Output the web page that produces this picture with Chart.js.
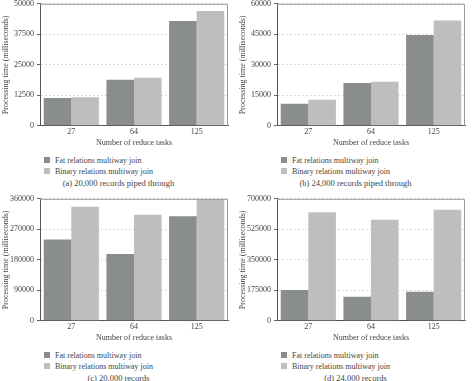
<!DOCTYPE html>
<html>
<head>
<meta charset="utf-8">
<script src="https://cdn.jsdelivr.net/npm/chart.js@4/dist/chart.umd.min.js"></script>
<style>
  html, body { margin: 0; padding: 0; background: #fff; }
  body { width: 474px; height: 381px; position: relative; overflow: hidden; font-family: "Liberation Serif", serif; color: #444; }
  .panel { position: absolute; width: 237px; height: 195px; }
  .panel canvas { position: absolute; left: 0; top: -4px; }
  .legend { position: absolute; left: 44px; top: 155px; font-size: 8px; line-height: 11px; }
  .legend div { white-space: nowrap; }
  .legend span { display: inline-block; width: 6px; height: 6px; margin-right: 5px; vertical-align: 0px; }
  .caption { position: absolute; left: 0; width: 237px; top: 177px; text-align: center; font-size: 8.5px; line-height: 12px; }
</style>
</head>
<body>
<div class="panel" style="left:0;top:0"><canvas id="c0" width="237" height="152"></canvas><div class="legend" id="l0"></div><div class="caption" id="t0"></div></div>
<div class="panel" style="left:237px;top:0"><canvas id="c1" width="237" height="152"></canvas><div class="legend" id="l1"></div><div class="caption" id="t1"></div></div>
<div class="panel" style="left:0;top:195px"><canvas id="c2" width="237" height="152"></canvas><div class="legend" id="l2"></div><div class="caption" id="t2"></div></div>
<div class="panel" style="left:237px;top:195px"><canvas id="c3" width="237" height="152"></canvas><div class="legend" id="l3"></div><div class="caption" id="t3"></div></div>
<script>
// data
const tasks = ["27", "64", "125"];
const seriesNames = ["Fat relations multiway join", "Binary relations multiway join"];
const seriesColors = ["#8a8d8d", "#bebebe"];

const fatA = [11400, 18900, 43000];
const binA = [11650, 19700, 47000];
const fatB = [10850, 21000, 44700];
const binB = [12800, 21700, 51800];
const fatC = [239700, 197300, 308700];
const binC = [336300, 312700, 360000];
const fatD = [176400, 138100, 166900];
const binD = [623300, 579200, 636700];

const yMax = [50000, 60000, 360000, 700000];
const yStep = [12500, 15000, 90000, 175000];
const captions = [
  "(a)  20,000 records piped through",
  "(b)  24,000 records piped through",
  "(c)  20,000 records",
  "(d)  24,000 records"
];

const font = { family: "Liberation Serif", size: 8 };
const textColor = "#444";

// top + right frame of the plot box
const framePlugin = {
  id: "frame",
  afterDraw(chart) {
    const { ctx, chartArea: a } = chart;
    ctx.save();
    ctx.strokeStyle = "#9a9a9a";
    ctx.lineWidth = 1;
    ctx.beginPath();
    ctx.moveTo(a.left, a.top + 0.5);
    ctx.lineTo(a.right - 0.5, a.top + 0.5);
    ctx.lineTo(a.right - 0.5, a.bottom);
    ctx.stroke();
    ctx.restore();
  }
};

function makeChart(i, fat, bin) {
  new Chart(document.getElementById("c" + i), {
    type: "bar",
    data: {
      labels: tasks,
      datasets: [
        { label: seriesNames[0], data: fat, backgroundColor: seriesColors[0] },
        { label: seriesNames[1], data: bin, backgroundColor: seriesColors[1] }
      ]
    },
    options: {
      responsive: false,
      animation: false,
      categoryPercentage: 0.88,
      barPercentage: 1,
      layout: { padding: { left: 0, right: 9, top: 7, bottom: 0 } },
      plugins: { legend: { display: false }, tooltip: { enabled: false } },
      scales: {
        x: {
          ticks: { color: textColor, font: font, padding: 1 },
          grid: { display: false, drawTicks: false },
          border: { color: "#555" },
          title: { display: true, text: "Number of reduce tasks", color: textColor, font: font, padding: { top: 1, bottom: 0 } }
        },
        y: {
          min: 0,
          max: yMax[i],
          ticks: { stepSize: yStep[i], color: textColor, font: font, padding: 3, callback: v => String(v) },
          grid: {
            color: c => (c.tick && c.tick.value === 0) ? "rgba(0,0,0,0)" : "#cdcdcd",
            tickColor: "#666",
            tickLength: 3
          },
          border: { color: "#555", dash: [1.5, 2.5] },
          title: { display: true, text: "Processing time (milliseconds)", color: textColor, font: font, padding: { top: 1, bottom: 0 } },
          afterFit: s => { s.width = 40; }
        }
      }
    },
    plugins: [framePlugin]
  });

  const leg = document.getElementById("l" + i);
  leg.innerHTML = seriesNames.map((n, k) =>
    `<div><span style="background:${seriesColors[k]}"></span>${n}</div>`).join("");
  document.getElementById("t" + i).textContent = captions[i];
}

makeChart(0, fatA, binA);
makeChart(1, fatB, binB);
makeChart(2, fatC, binC);
makeChart(3, fatD, binD);
</script>
</body>
</html>
